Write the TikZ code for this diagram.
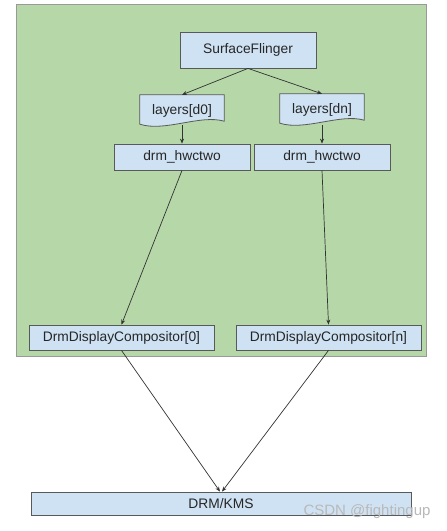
\documentclass[tikz,border=0pt]{standalone}
\usepackage{fontspec}
\setmainfont{Liberation Sans}
\usetikzlibrary{calc,arrows.meta}
\definecolor{bggreen}{HTML}{B6D7A8}
\definecolor{boxblue}{HTML}{CFE2F3}
\definecolor{edgegray}{HTML}{595959}
\definecolor{txt}{HTML}{262626}
\pgfdeclarelayer{bg}
\pgfdeclarelayer{mid}
\pgfsetlayers{bg,mid,main}
\newcommand\docshape[1]{%
  \draw[boxline,fill=boxblue] (#1.north west) -- (#1.north east)
    -- ($(#1.south east)+(0,-6)$)
    .. controls ($(#1.south east)+(-24,-13)$) and ($(#1.south west)+(25,5)$) ..
    ($(#1.south west)+(0,-3)$) -- cycle;}
\begin{document}
\begin{tikzpicture}[x=1pt,y=-1pt,
  boxline/.style={draw=edgegray,line width=0.8pt},
  box/.style={boxline,fill=boxblue,inner sep=0pt,text=txt,
    font=\fontsize{13.8}{16}\selectfont},
  docbox/.style={inner sep=0pt,text=txt,font=\fontsize{13.8}{16}\selectfont},
  conn/.style={draw=black!80,line width=0.7pt,-{Stealth[length=5pt,width=4pt]}},
]
\useasboundingbox (0,0) rectangle (447,531);
\begin{pgfonlayer}{bg}
\fill[white] (0,0) rectangle (447,531);
\draw[fill=bggreen,draw=gray!80,line width=0.8pt] (16,4) rectangle (426,356);
\end{pgfonlayer}
\node[box,minimum width=136pt,minimum height=36pt] (SF) at (248,50) {SurfaceFlinger};
\node[docbox,minimum width=84pt,minimum height=32pt] (L0) at (182,111) {\raisebox{1.5pt}{layers[d0]}};
\node[docbox,minimum width=84pt,minimum height=32pt] (Ln) at (322,110) {\raisebox{1.5pt}{layers[dn]}};
\begin{pgfonlayer}{mid}
\docshape{L0}
\docshape{Ln}
\end{pgfonlayer}
\node[box,minimum width=136pt,minimum height=26pt] (H0) at (182,157) {drm\_hwctwo};
\node[box,minimum width=136pt,minimum height=26pt] (Hn) at (322,157) {drm\_hwctwo};
\node[box,minimum width=185pt,minimum height=25pt] (C0) at (121.5,337.5) {DrmDisplayCompositor[0]};
\node[box,minimum width=185pt,minimum height=25pt] (Cn) at (328.5,337.5) {DrmDisplayCompositor[n]};
\node[box,minimum width=380pt,minimum height=23pt] (K) at (221,503.5) {DRM/KMS};
\node[text=gray!55,font=\fontsize{15}{17}\selectfont,inner sep=0pt] (wm) at (367,512) {CSDN @fightingup};
\draw[conn] (SF.south) -- (L0.north);
\draw[conn] (SF.south) -- (Ln.north);
\draw[conn] ($(L0.south)+(0,-2)$) -- (H0.north);
\draw[conn] ($(Ln.south)+(0,-1)$) -- (Hn.north);
\draw[conn] (H0.south) -- (C0.north);
\draw[conn] (Hn.south) -- (Cn.north);
\draw[conn] (C0.south) -- ($(K.north)+(-1,0)$);
\draw[conn] (Cn.south) -- ($(K.north)+(1,0)$);
\end{tikzpicture}
\end{document}
